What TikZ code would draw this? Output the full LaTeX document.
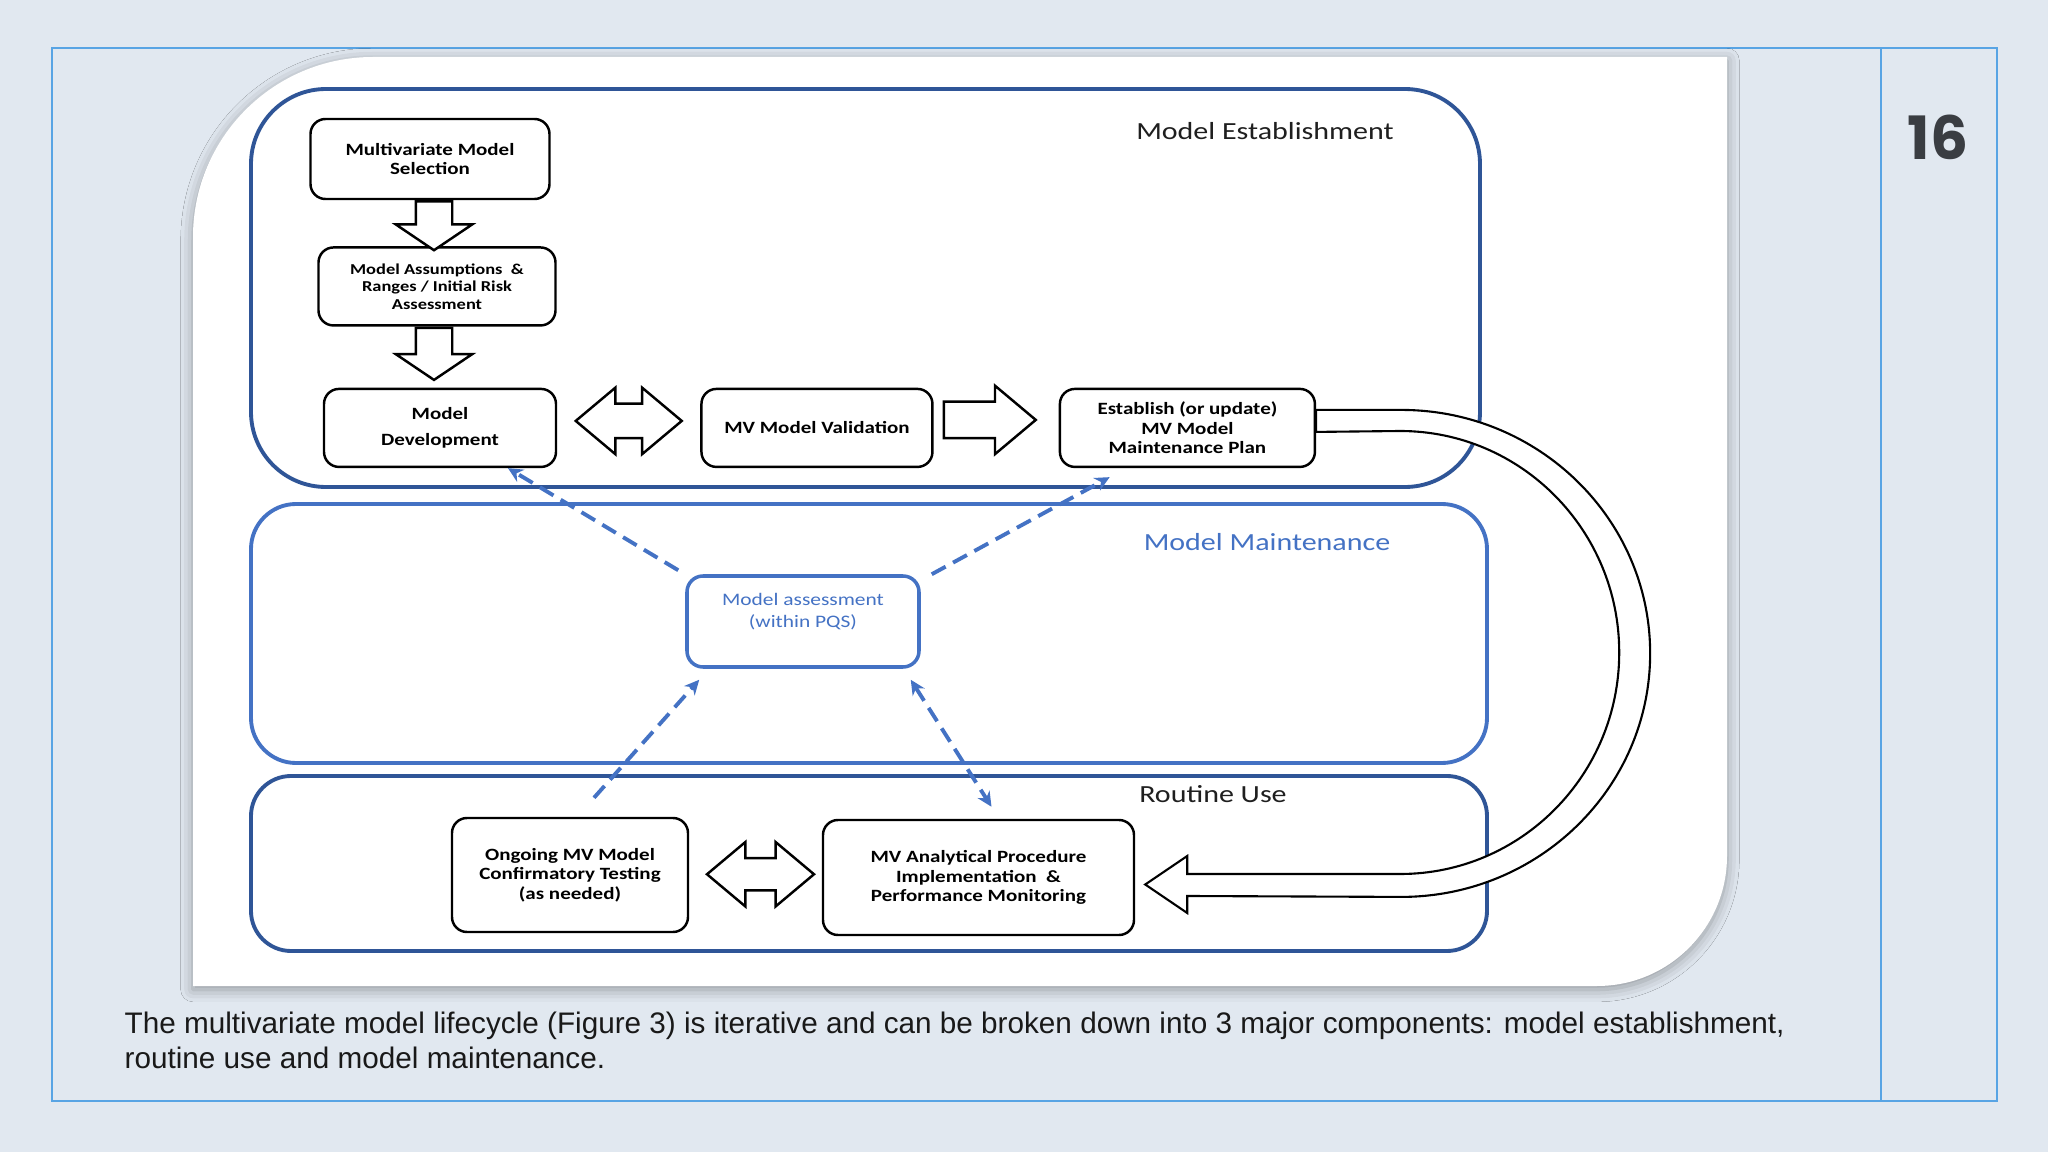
\documentclass[tikz,border=0pt]{standalone}
\usepackage{fontspec}
\usetikzlibrary{arrows.meta,positioning,calc,shapes.arrows,shadows.blur}
\newfontfamily\diagfont{Carlito}[FakeStretch=1.22]
\newfontfamily\capfont{Liberation Sans}
\newfontfamily\numfont{Poppins}
\definecolor{slidebg}{RGB}{225,232,240}
\definecolor{frameblue}{RGB}{88,164,228}
\definecolor{darkblue}{RGB}{47,85,151}
\definecolor{midblue}{RGB}{68,114,196}
\definecolor{numgray}{RGB}{58,61,66}

\begin{document}
\begin{tikzpicture}[
sectbox/.style={draw=#1, line width=1.1pt, inner sep=0pt},
secttitle/.style={font=\diagfont\fontsize{7}{8}\selectfont, text=black!88},
box/.style={draw=black, fill=white, line width=0.7pt, rounded corners=1.5mm, align=center, inner sep=1pt, font=\diagfont\bfseries\fontsize{4.9}{5.6}\selectfont},
bluebox/.style={draw=midblue, fill=white, line width=1pt, rounded corners=1.6mm, align=center, inner sep=1pt, text=midblue, font=\diagfont\fontsize{5}{6.3}\selectfont},
blockarrow/.style={draw=black, fill=white, line width=0.7pt},
downarrow/.style={blockarrow, single arrow, shape border rotate=270, inner sep=0.17cm, minimum width=0.74cm, single arrow head extend=0.20cm, single arrow tip angle=112},
rightarrow/.style={blockarrow, single arrow, inner sep=0.17cm, minimum width=0.66cm, single arrow head extend=0.16cm, single arrow tip angle=80},
botharrow/.style={blockarrow, double arrow, inner sep=0.16cm, minimum width=0.64cm, double arrow head extend=0.16cm, double arrow tip angle=80},
dasharrow/.style={-{Stealth[length=4.2pt, width=4pt]}, midblue, line width=1.1pt, dash pattern=on 4.5pt off 2.4pt}]
\useasboundingbox (0,0) rectangle (20.48,-11.52);
\fill[slidebg] (0,0) rectangle (20.48,-11.52);
% slide frame
\draw[frameblue, line width=0.6pt] (0.52,-0.48) rectangle (19.97,-11.01);
\draw[frameblue, line width=0.6pt] (18.81,-0.48) -- (18.81,-11.01);
\node[font=\numfont\bfseries\fontsize{17}{17}\selectfont, text=numgray] (pagenum) at (19.38,-1.37) {16};
% picture panel
\fill[white, blur shadow={shadow xshift=0pt, shadow yshift=-1pt, shadow blur radius=3.5pt, shadow opacity=35}]
  (1.93,-9.86) -- (1.93,-2.37) arc[start angle=180, end angle=90, radius=1.8] -- (17.27,-0.57)
  -- (17.27,-8.56) arc[start angle=0, end angle=-90, radius=1.3] -- cycle;

% the three stages
\node[sectbox=darkblue, rounded corners=7.5mm, minimum width=12.29cm, minimum height=3.98cm] (est) at (8.655,-2.88) {};
\node[sectbox=midblue, rounded corners=4.5mm, minimum width=12.36cm, minimum height=2.59cm] (maint) at (8.69,-6.335) {};
\node[sectbox=darkblue, rounded corners=4mm, minimum width=12.36cm, minimum height=1.75cm] (routine) at (8.69,-8.635) {};
\node[secttitle] (esttitle) at (12.65,-1.31) {Model Establishment};
\node[secttitle, text=midblue] (mainttitle) at (12.67,-5.42) {Model Maintenance};
\node[secttitle] (routinetitle) at (12.13,-7.94) {Routine Use};

% steps
\node[box, minimum width=2.39cm, minimum height=0.80cm] (sel) at (4.30,-1.59) {Multivariate Model\\Selection};
\node[box, minimum width=2.37cm, minimum height=0.78cm, font=\diagfont\bfseries\fontsize{4.3}{5}\selectfont, below=0.46cm of sel, xshift=0.07cm] (assum) {Model Assumptions \ \&\\Ranges / Initial Risk\\Assessment};
\node[box, minimum width=2.32cm, minimum height=0.78cm, below=0.61cm of assum, xshift=0.03cm] (dev) {Model\\[1.7pt]Development};
\node[box, minimum width=2.31cm, minimum height=0.78cm, right=1.43cm of dev] (valid) {MV Model Validation};
\node[box, minimum width=2.55cm, minimum height=0.78cm, right=1.25cm of valid] (plan) {Establish (or update)\\MV Model\\Maintenance Plan};
\node[bluebox, minimum width=2.32cm, minimum height=0.91cm] (assess) at (8.03,-6.215) {Model assessment\\(within PQS)\\~};
\node[box, minimum width=2.36cm, minimum height=1.14cm] (ongo) at (5.70,-8.75) {Ongoing MV Model\\Confirmatory Testing\\(as needed)};
\node[box, minimum width=3.11cm, minimum height=1.15cm] (proc) at (9.785,-8.775) {MV Analytical Procedure\\Implementation \ \&\\Performance Monitoring};

% return arrow from plan to routine use
\draw[line width=0.6pt, fill=white] ($(plan.east)+(0,0.18)$) -- ++(0.85,0)
  arc[start angle=90, end angle=-90, x radius=2.49, y radius=2.435]
  -- ($(proc.east)+(0.52,-0.185)$) -- ++(0,-0.17) -- ($(proc.east)+(0.10,-0.07)$)
  -- ($(proc.east)+(0.52,0.215)$) -- ++(0,-0.18) -- ++(2.13,0)
  arc[start angle=-90, end angle=90, x radius=2.19, y radius=2.215]
  -- ($(plan.east)+(0,-0.04)$) -- cycle;

% block arrows
\node[downarrow, minimum height=0.48cm, anchor=tail] (down1) at ($(sel.south)+(0.04,0)$) {};
\node[downarrow, minimum height=0.52cm, anchor=tail] (down2) at ($(assum.south)+(-0.03,0)$) {};
\node[botharrow, minimum height=1.06cm] (devval) at ($(dev.east)!0.5!(valid.west)+(0,0.07)$) {};
\node[rightarrow, minimum height=0.92cm, anchor=tip] (valplan) at ($(plan.west)+(-0.21,0.08)$) {};
\node[botharrow, minimum height=1.07cm, inner sep=0.15cm] (ongoproc) at ($(ongo.east)!0.5!(proc.west)+(0.05,0.02)$) {};

% assessment links
\draw[dasharrow] ($(assess.north west)+(-0.07,0.04)$) -- ($(dev.south)!0.58!(dev.south east)$);
\draw[dasharrow] ($(assess.north east)+(0.11,0)$) -- ($(plan.south west)+(0.51,-0.09)$);
\draw[dasharrow] ($(ongo.north)+(0.24,0.19)$) -- ($(assess.south west)+(0.14,-0.11)$);
\draw[dasharrow, {Stealth[length=4.2pt, width=4pt]}-{Stealth[length=4.2pt, width=4pt]}] ($(assess.south east)+(-0.10,-0.11)$) -- ($(proc.north)+(0.13,0.12)$);

% caption
\node[anchor=base west, align=left, font=\capfont\fontsize{8.45}{9.96}\selectfont, text=black!90, inner sep=0pt] (caption) at (1.24,-10.69) {The multivariate model lifecycle (Figure 3) is iterative and can be broken down into 3 major components: model establishment,\\routine use and model maintenance.};
\end{tikzpicture}
\end{document}
